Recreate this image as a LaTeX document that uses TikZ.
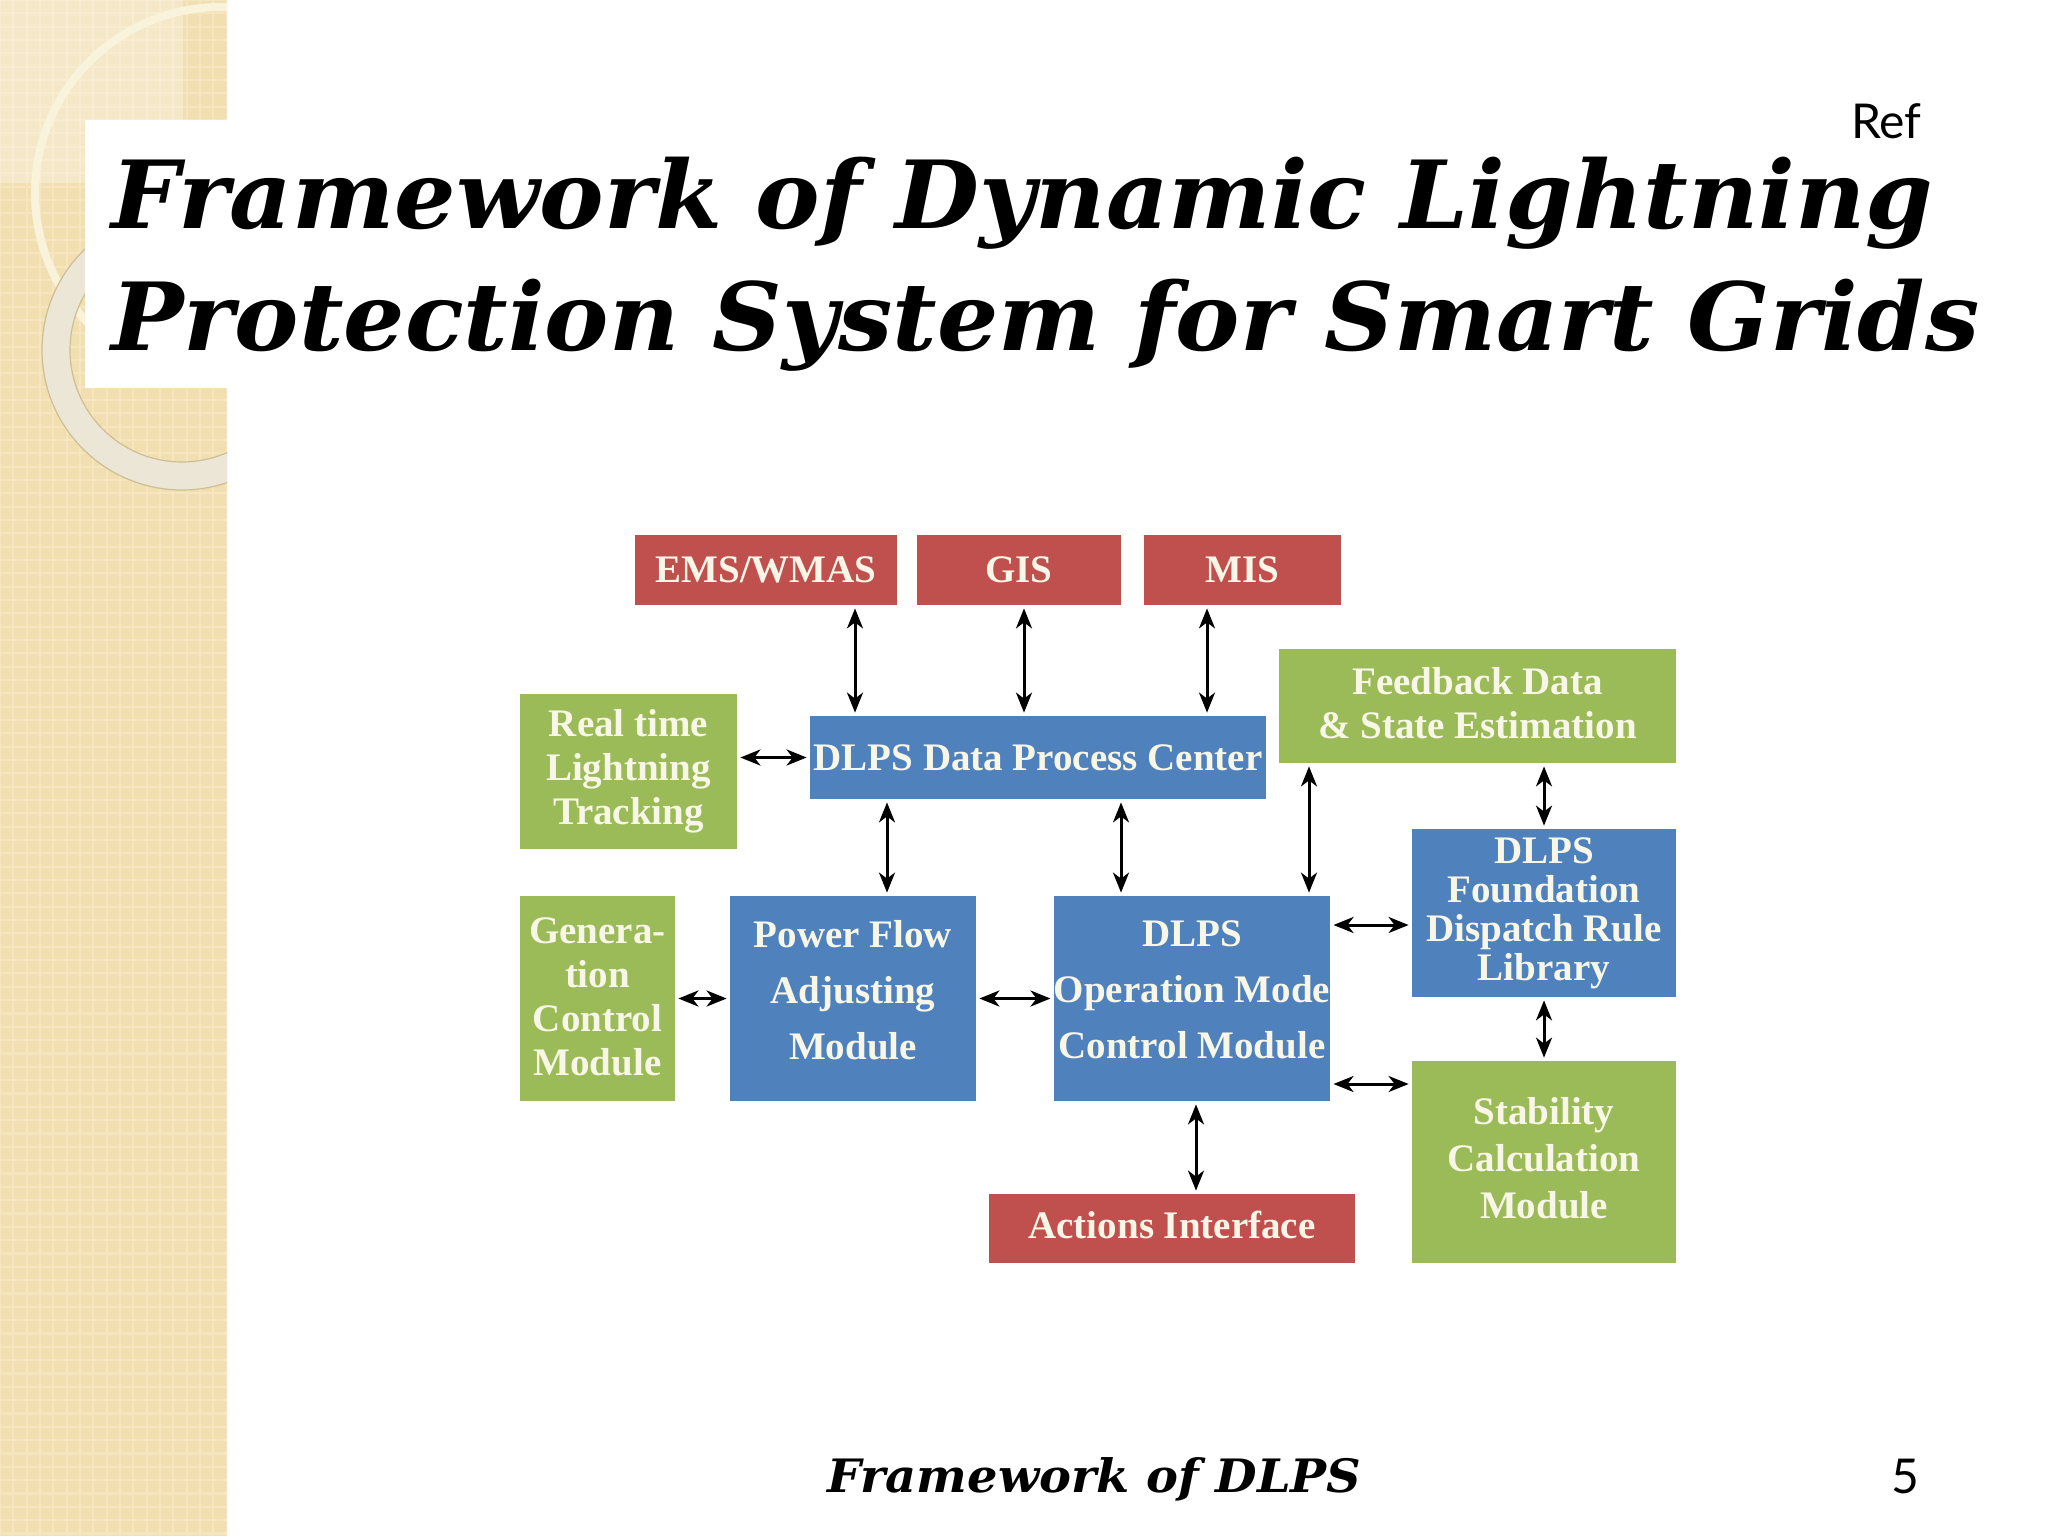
\documentclass[tikz,border=0pt]{standalone}
\usepackage{fontspec}
\usepackage{graphicx}
\setmainfont{Liberation Serif}
\newfontfamily\titlefont{DejaVu Serif}
\newfontfamily\gillfont{Lato}
\usetikzlibrary{arrows.meta}
\definecolor{boxred}{HTML}{C0504D}
\definecolor{boxblue}{HTML}{4F81BD}
\definecolor{boxgreen}{HTML}{9BBB59}
\definecolor{boxtext}{HTML}{F8F6E6}
\definecolor{striptan}{HTML}{F1DFB1}
\definecolor{stripline}{HTML}{F5E6C0}
\definecolor{ringcream}{HTML}{FAF3DC}
\definecolor{ringgrey}{HTML}{ECE6D6}
\definecolor{ringedge}{HTML}{CDBE93}
\begin{document}
\begin{tikzpicture}[x=0.5pt,y=-0.5pt,
  blk/.style={draw=none, inner sep=0pt, align=center, text=boxtext,
    font=\fontsize{19.5}{22}\selectfont\bfseries},
  redblk/.style={blk, fill=boxred},
  blueblk/.style={blk, fill=boxblue},
  greenblk/.style={blk, fill=boxgreen},
  arr/.style={<->, >={Stealth[length=10pt,width=8pt,inset=3pt]},
    line width=1.5pt, shorten <=1.5pt, shorten >=1.5pt},
  titletext/.style={anchor=base west, inner sep=0pt},
  pagetext/.style={anchor=base east, inner sep=0pt, font=\gillfont\fontsize{24}{24}\selectfont}
]
\useasboundingbox (0,0) rectangle (2048,1536);
\fill[white] (0,0) rectangle (2048,1536);

% left decorative strip
\begin{scope}
  \clip (0,0) rectangle (227,1536);
  \fill[striptan] (0,0) rectangle (227,1536);
  \draw[stripline, line width=1.1pt, step=6.667pt] (0,0) grid (227,1536);
  \fill[white, opacity=0.3] (0,0) rectangle (183,183);
  \draw[ringcream, line width=4pt] (221,193) circle[radius=186];
  \fill[ringgrey, even odd rule] (182,350) circle[radius=140] (182,350) circle[radius=112];
  \draw[ringedge, line width=0.6pt] (182,350) circle[radius=140] (182,350) circle[radius=112];
\end{scope}

% title panel
\fill[white] (85,120) rectangle (1600,388);
\node[titletext] (t1) at (111,228)
  {\resizebox{911pt}{\height}{\fontsize{47}{47}\titlefont\bfseries\itshape Framework of Dynamic Lightning}};
\node[titletext] (t2) at (111,350)
  {\resizebox{934pt}{\height}{\fontsize{47}{47}\titlefont\bfseries\itshape Protection System for Smart Grids}};
\node[pagetext] (ref) at (1922,138) {Ref};
\node[titletext] (foot) at (827,1492)
  {\resizebox{267pt}{\height}{\fontsize{23}{23}\titlefont\bfseries\itshape Framework of DLPS}};
\node[pagetext] (pnum) at (1920,1493) {5};

% blocks
\node[redblk, minimum width=131pt, minimum height=35pt] (ems) at (766,570) {EMS/WMAS};
\node[redblk, minimum width=102pt, minimum height=35pt] (gis) at (1019,570) {GIS};
\node[redblk, minimum width=98.5pt, minimum height=35pt] (mis) at (1242.5,570) {MIS};
\node[greenblk, minimum width=108.5pt, minimum height=77.5pt] (rlt) at (628.5,771.5) {Real time\\Lightning\\Tracking};
\node[blueblk, minimum width=228pt, minimum height=41.5pt] (dpc) at (1038,757.5) {DLPS Data Process Center};
\node[greenblk, minimum width=198.5pt, minimum height=57pt, text depth=3pt] (fb) at (1477.5,706) {Feedback Data\\\& State Estimation};
\node[blueblk, minimum width=132pt, minimum height=84pt,
  font=\fontsize{19.5}{19.5}\selectfont\bfseries] (found) at (1544,913) {DLPS\\Foundation\\Dispatch Rule\\Library};
\node[greenblk, minimum width=77.5pt, minimum height=102.5pt, text depth=2pt] (gen) at (597.5,998.5) {Genera-\\tion\\Control\\Module};
\node[blueblk, minimum width=123pt, minimum height=102.5pt, text depth=9pt,
  font=\fontsize{19.5}{28}\selectfont\bfseries] (pf) at (853,998.5) {Power Flow\\Adjusting\\Module};
\node[blueblk, minimum width=134pt, minimum height=102.5pt, text depth=9pt,
  font=\fontsize{19.5}{28}\selectfont\bfseries] (om) at (1192,998.5) {DLPS\\Operation Mode\\Control Module};
\node[greenblk, minimum width=132pt, minimum height=101pt, text depth=4pt,
  font=\fontsize{19.5}{23.5}\selectfont\bfseries] (stab) at (1544,1162) {Stability\\Calculation\\Module};
\node[redblk, minimum width=183pt, minimum height=34.5pt, text depth=4pt] (act) at (1172,1228.5) {Actions Interface};

% helper coordinates for connector positions
\coordinate (xems) at (855,0);
\coordinate (xgis) at (1024,0);
\coordinate (xmis) at (1207,0);
\coordinate (xpf) at (887,0);
\coordinate (xom) at (1121,0);
\coordinate (xfb) at (1309,0);
\coordinate (xact) at (1196,0);
\coordinate (yfound) at (0,925);
\coordinate (ystab) at (0,1084);

% connectors
\draw[arr] (ems.south -| xems) -- (dpc.north -| xems);
\draw[arr] (gis.south -| xgis) -- (dpc.north -| xgis);
\draw[arr] (mis.south -| xmis) -- (dpc.north -| xmis);
\draw[arr] (rlt.east |- dpc.west) -- (dpc.west);
\draw[arr] (dpc.south -| xpf) -- (pf.north -| xpf);
\draw[arr] (dpc.south -| xom) -- (om.north -| xom);
\draw[arr] (fb.south -| xfb) -- (om.north -| xfb);
\draw[arr] (fb.south -| found.north) -- (found.north);
\draw[arr] (om.east |- yfound) -- (found.west |- yfound);
\draw[arr] (found.south) -- (stab.north);
\draw[arr] (om.east |- ystab) -- (stab.west |- ystab);
\draw[arr] (gen.east) -- (pf.west);
\draw[arr] (pf.east) -- (om.west);
\draw[arr] (om.south -| xact) -- (act.north -| xact);
\end{tikzpicture}
\end{document}
